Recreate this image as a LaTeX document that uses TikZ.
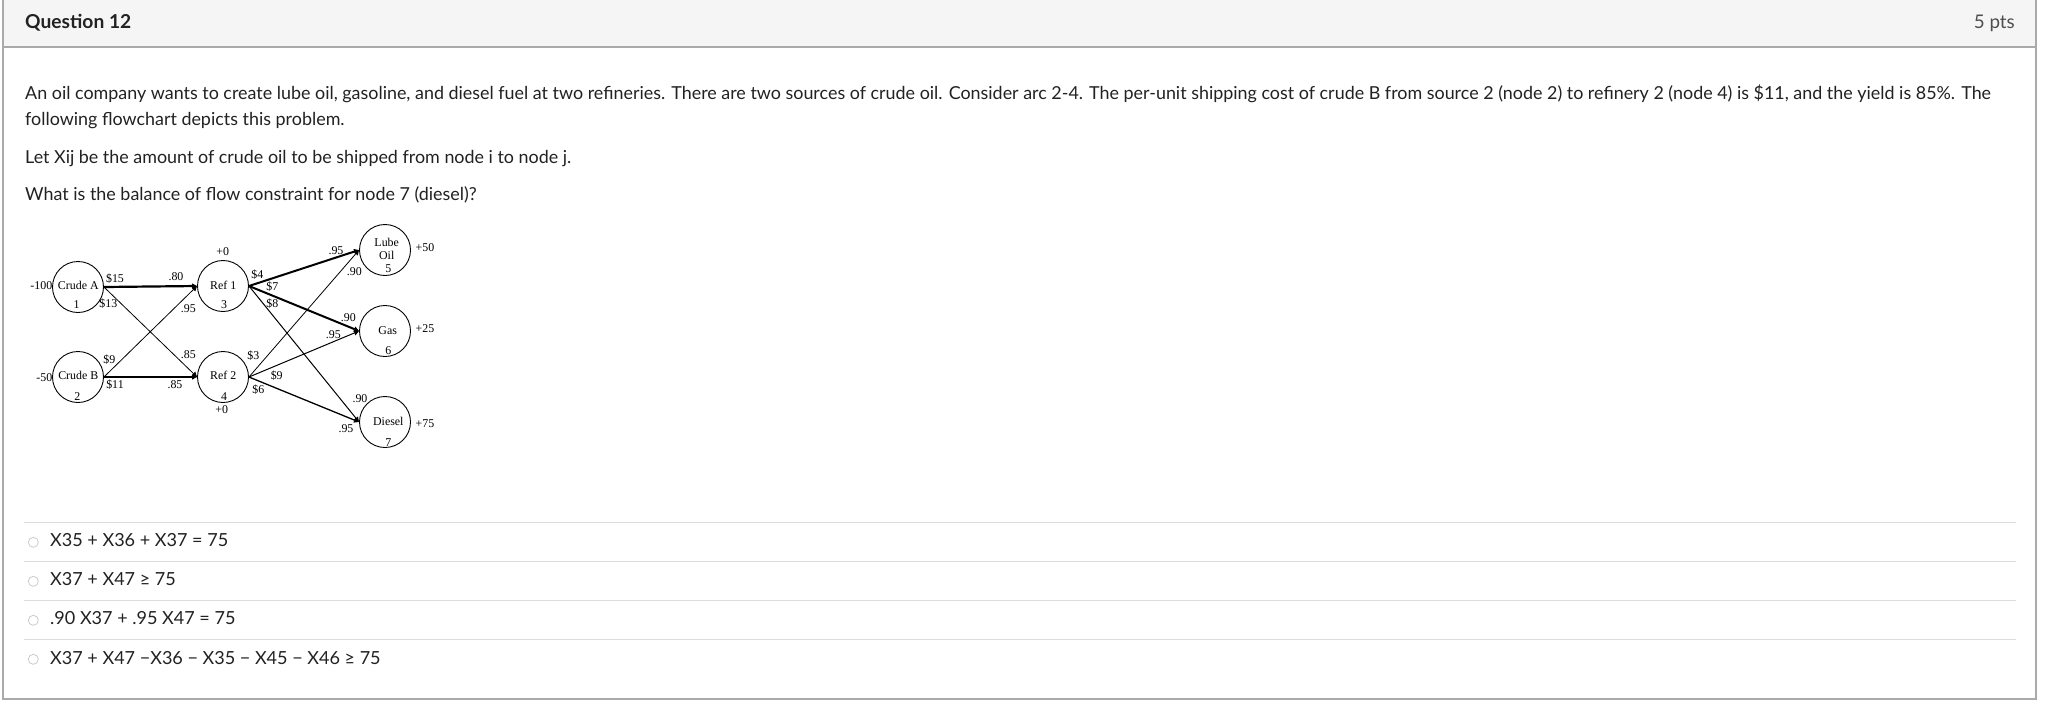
\documentclass[tikz,border=0pt]{standalone}
\usepackage{fontspec}
\setmainfont{Lato}
\newfontfamily\tnr{Liberation Serif}
\usetikzlibrary{arrows.meta}
\definecolor{txt}{HTML}{222222}
\definecolor{frame}{HTML}{AAAAAA}
\definecolor{headbg}{HTML}{F5F5F5}
\definecolor{sep}{HTML}{DDDDDD}
\definecolor{radio}{HTML}{CCCCCC}
\tikzset{
  body/.style={anchor=base west, inner sep=0pt, text=txt, font=\fontsize{17.9}{21}\selectfont},
  head/.style={anchor=base west, inner sep=0pt, text=txt, font=\fontsize{19.2}{22}\selectfont\bfseries},
  pts/.style={anchor=base east, inner sep=0pt, text=txt!80, font=\fontsize{18.8}{22}\selectfont},
  ans/.style={anchor=base west, inner sep=0pt, text=txt, font=\fontsize{18.05}{21}\selectfont},
  radiobtn/.style={circle, draw=radio, line width=0.8pt, minimum size=10pt, inner sep=0pt},
  sepline/.style={draw=sep, line width=1.4pt},
  netnode/.style={circle, draw=black, line width=0.9pt, minimum size=51pt, inner sep=0pt},
  lab/.style={inner sep=0pt, font=\tnr\fontsize{11.9}{13}\selectfont},
  arc/.style={-{Triangle[length=5pt,width=5pt]}},
}
\begin{document}
\begin{tikzpicture}[x=1pt,y=-1pt]
\useasboundingbox (0,0) rectangle (2052,716);
\fill[white] (0,0) rectangle (2052,716);
% frame and header
\fill[headbg] (3,0) rectangle (2036,46.7);
\draw[frame, line width=2pt] (3,-2) -- (3,699) -- (2036,699) -- (2036,-2);
\draw[frame, line width=2pt] (3,46.7) -- (2036,46.7);
\node[head] (title) at (25,28.5) {Question 12};
\node[pts] (points) at (2015,28.5) {5 pts};
% body text
\node[body] (l1) at (25,99.3) {An oil company wants to create lube oil, gasoline, and diesel fuel at two refineries. There are two sources of crude oil. Consider arc 2-4. The per-unit shipping cost of crude B from source 2 (node 2) to refinery 2 (node 4) is \$11, and the yield is 85\%. The};
\node[body] (l2) at (25,125) {following flowchart depicts this problem.};
\node[body] (l3) at (25,163.3) {Let Xij be the amount of crude oil to be shipped from node i to node j.};
\node[body] (l4) at (25,200) {What is the balance of flow constraint for node 7 (diesel)?};
% network
\node[netnode] (ca) at (78,287) {};
\node[netnode] (cb) at (78,377) {};
\node[netnode] (r1) at (223,286) {};
\node[netnode] (r2) at (223,377) {};
\node[netnode] (lo) at (385,250) {};
\node[netnode] (gas) at (385,331) {};
\node[netnode] (dsl) at (385,422) {};
\draw[arc, line width=2.2pt] (ca.east) -- (r1.west);
\draw[arc, line width=0.8pt] (ca.east) -- (r2.west);
\draw[arc, line width=0.8pt] (cb.east) -- (r1.west);
\draw[arc, line width=1.5pt] (cb.east) -- (r2.west);
\draw[arc, line width=2pt] (r1.east) -- (lo.west);
\draw[arc, line width=2pt] (r1.east) -- (gas.west);
\draw[arc, line width=1pt] (r1.east) -- (dsl.west);
\draw[arc, line width=0.8pt] (r2.east) -- (lo.west);
\draw[arc, line width=1pt] (r2.east) -- (gas.west);
\draw[arc, line width=1.3pt] (r2.east) -- (dsl.west);
% node texts
\node[lab] (caname) at (78.3,285) {Crude A};
\node[lab] (canum) at (76.7,305) {1};
\node[lab] (cbname) at (78.3,375.7) {Crude B};
\node[lab] (cbnum) at (77.3,396.7) {2};
\node[lab] (r1name) at (223.3,285) {Ref 1};
\node[lab] (r1num) at (224,304.3) {3};
\node[lab] (r2name) at (223.3,375.7) {Ref 2};
\node[lab] (r2num) at (224,396.7) {4};
\node[lab] (loname1) at (386.7,242.3) {Lube};
\node[lab] (loname2) at (386.7,255) {Oil};
\node[lab] (lonum) at (388.3,269) {5};
\node[lab] (gasname) at (387.7,331) {Gas};
\node[lab] (gasnum) at (388.3,351) {6};
\node[lab] (dslname) at (388.3,421.7) {Diesel};
\node[lab] (dslnum) at (388.3,442.3) {7};
% supplies / demands
\node[lab, anchor=east] (sa) at (52.5,286) {-100};
\node[lab, anchor=east] (sb) at (52.5,377.7) {-50};
\node[lab] (s3) at (222.7,251.7) {+0};
\node[lab] (s4) at (221.7,410) {+0};
\node[lab] (d5) at (425,247.7) {+50};
\node[lab] (d6) at (425,329) {+25};
\node[lab] (d7) at (425,423.7) {+75};
% arc labels
\node[lab] (c13) at (115,279) {\$15};
\node[lab] (c14) at (108.3,303.3) {\$13};
\node[lab] (y13) at (176,276.7) {.80};
\node[lab] (y23) at (188.3,308.3) {.95};
\node[lab] (y14) at (188.3,355) {.85};
\node[lab] (c23) at (109.3,359.3) {\$9};
\node[lab] (c24) at (115,385) {\$11};
\node[lab] (y24) at (175,384.3) {.85};
\node[lab] (c35) at (257.3,275) {\$4};
\node[lab] (c36) at (272.3,286.7) {\$7};
\node[lab] (c37) at (272.3,303.3) {\$8};
\node[lab] (y35) at (336,251) {.95};
\node[lab] (y45) at (354.3,271.7) {.90};
\node[lab] (y36) at (348.3,317.7) {.90};
\node[lab] (y46) at (333.3,334.3) {.95};
\node[lab] (c45) at (253.3,356) {\$3};
\node[lab] (c46) at (276.7,375.7) {\$9};
\node[lab] (c47) at (258.3,389.3) {\$6};
\node[lab] (y37) at (360,398.3) {.90};
\node[lab] (y47) at (346,429) {.95};
% answers
\draw[sepline] (24,522.7) -- (2015.7,522.7);
\draw[sepline] (24,561.7) -- (2015.7,561.7);
\draw[sepline] (24,600.7) -- (2015.7,600.7);
\draw[sepline] (24,639.7) -- (2015.7,639.7);
\node[radiobtn] (rb1) at (33.3,542.3) {};
\node[radiobtn] (rb2) at (33.3,581.3) {};
\node[radiobtn] (rb3) at (33.3,620.3) {};
\node[radiobtn] (rb4) at (33.3,659.3) {};
\node[ans] (a1) at (50,546.7) {X35 + X36 + X37 = 75};
\node[ans] (a2) at (50,585.7) {X37 + X47 ≥ 75};
\node[ans] (a3) at (50,624.7) {.90 X37 + .95 X47 = 75};
\node[ans] (a4) at (50,664) {X37 + X47 −X36 − X35 − X45 − X46 ≥ 75};
\end{tikzpicture}
\end{document}
